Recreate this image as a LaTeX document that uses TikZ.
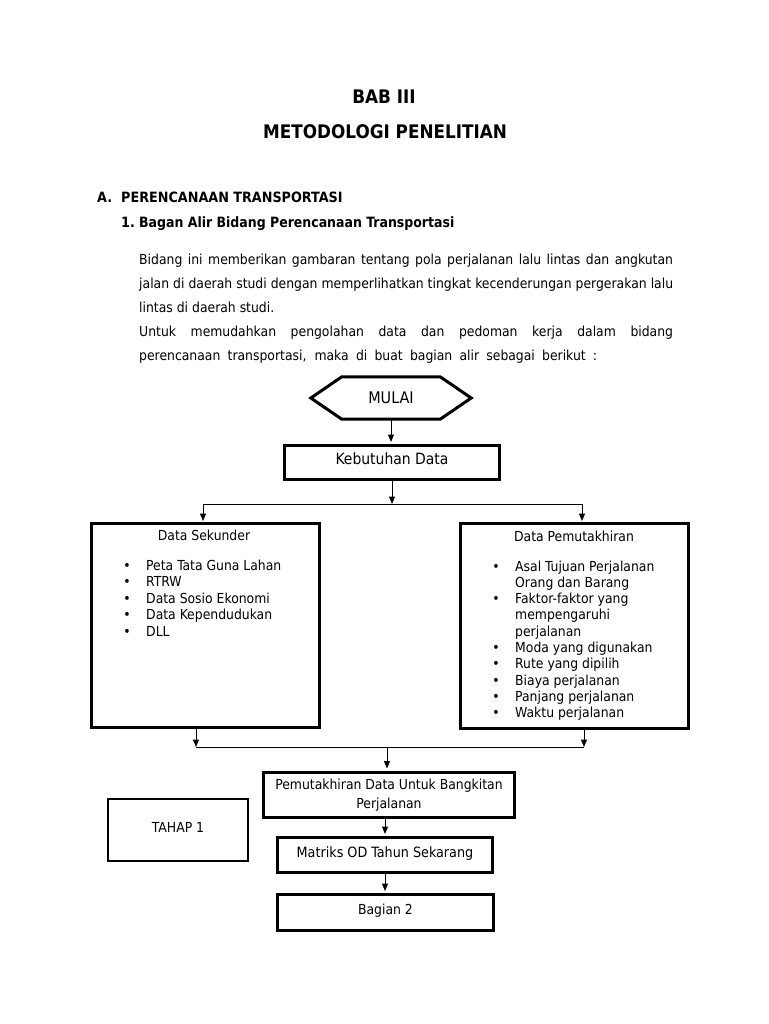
\documentclass[tikz,border=0pt]{standalone}
\usepackage{fontspec}
\setmainfont{DejaVu Sans Condensed}
\usetikzlibrary{arrows.meta}

\newcommand{\txtfont}{\fontsize{13.8}{16.4}\selectfont}
\newcommand{\headfont}{\fontsize{18.7}{20}\selectfont\bfseries}
\newcommand{\secfont}{\fontsize{14.2}{17}\selectfont\bfseries}

\tikzset{
  flowbox/.style={draw, line width=3pt, inner sep=0pt, anchor=north west, align=center, font=\txtfont},
  onebox/.style={flowbox, text height=10.5pt, text depth=6pt},
  listbox/.style={draw, line width=3pt, inner sep=0pt, anchor=north west},
  txt/.style={inner sep=0pt, font=\txtfont, anchor=base west},
  bul/.style={inner sep=0pt, font=\txtfont, anchor=base},
  conn/.style={line width=1pt},
  arr/.style={conn, -{Triangle[length=7.5pt,width=6pt]}},
}

\begin{document}
\begin{tikzpicture}[x=1pt,y=-1pt]
\fill[white] (0,0) rectangle (768,1024);
\useasboundingbox (0,0) rectangle (768,1024);

% judul bab
\node[font=\headfont, anchor=base, inner sep=0pt] (bab) at (384,104) {BAB III};
\node[font=\headfont, anchor=base, inner sep=0pt] (judul) at (385,139) {METODOLOGI PENELITIAN};
\node[font=\secfont, anchor=base west, inner sep=0pt] (sec-a) at (97,203) {A.};
\node[font=\secfont, anchor=base west, inner sep=0pt] (sec-a-t) at (121,203) {PERENCANAAN TRANSPORTASI};
\node[font=\secfont, anchor=base west, inner sep=0pt] (sub-1) at (121,227) {1.};
\node[font=\secfont, anchor=base west, inner sep=0pt, xscale=0.98] (sub-1-t) at (139,227) {Bagan Alir Bidang Perencanaan Transportasi};

% paragraf
\node[txt] (par-1) at (139,264) {\makebox[534pt][s]{Bidang ini memberikan gambaran tentang pola perjalanan lalu lintas dan angkutan}};
\node[txt] (par-2) at (139,288) {\makebox[534pt][s]{jalan di daerah studi dengan memperlihatkan tingkat kecenderungan pergerakan lalu}};
\node[txt] (par-3) at (139,312) {lintas di daerah studi.};
\node[txt] (par-4) at (139,336) {\makebox[534pt][s]{Untuk memudahkan pengolahan data dan pedoman kerja dalam bidang}};
\node[txt] (par-5) at (139,360) {\makebox[458pt][s]{perencanaan transportasi, maka di buat bagian alir sebagai berikut :}};

% mulai
\node[font=\fontsize{16}{18}\selectfont, inner sep=0pt, minimum width=98pt, minimum height=42pt] (mulai) at (391,398) {MULAI};
\draw[line width=3pt] (mulai.north west) -- (mulai.north east) -- ([xshift=31pt]mulai.east)
  -- (mulai.south east) -- (mulai.south west) -- ([xshift=-31pt]mulai.west) -- cycle;

\node[onebox, font=\fontsize{15.5}{18}\selectfont, minimum width=215pt, minimum height=34pt] (keb) at (283,444) {Kebutuhan Data};

% data
\node[listbox, minimum width=228pt, minimum height=204pt] (sek) at (90,522) {};
\node[listbox, minimum width=228pt, minimum height=205pt] (pem) at (459,522) {};

\node[font=\txtfont, anchor=base, inner sep=0pt] (sek-t) at (204,540) {Data Sekunder};
\foreach \t [count=\i from 0] in {Peta Tata Guna Lahan, RTRW, Data Sosio Ekonomi, Data Kependudukan, DLL}{
  \node[txt] (sek-\i) at (146,{570.5+16.4*\i}) {\t};
  \node[bul] (sek-b\i) at (127,{570.5+16.4*\i}) {•};
}

\node[font=\txtfont, anchor=base, inner sep=0pt] (pem-t) at (574,541) {Data Pemutakhiran};
\foreach \b/\t [count=\i from 0] in {1/Asal Tujuan Perjalanan, 0/Orang dan Barang, 1/Faktor-faktor yang,
  0/mempengaruhi, 0/perjalanan, 1/Moda yang digunakan, 1/Rute yang dipilih, 1/Biaya perjalanan,
  1/Panjang perjalanan, 1/Waktu perjalanan}{
  \node[txt] (pem-\i) at (515,{571+16.33*\i}) {\t};
  \ifnum\b=1 \node[bul] (pem-b\i) at (496,{571+16.33*\i}) {•}; \fi
}

% tahap 1
\node[flowbox, font=\fontsize{13.8}{18.5}\selectfont, minimum width=251pt, minimum height=45pt] (bang) at (262,771) {Pemutakhiran Data Untuk Bangkitan\\Perjalanan};
\node[onebox, line width=2pt, minimum width=140pt, minimum height=62pt] (tahap) at (107,798) {TAHAP 1};
\node[onebox, font=\fontsize{14.2}{17}\selectfont, minimum width=215pt, minimum height=35pt] (matriks) at (276,836) {Matriks OD Tahun Sekarang};
\node[onebox, minimum width=216pt, minimum height=36pt] (bagian) at (276,893) {Bagian 2};

% panah
\coordinate (split) at ([yshift=-23pt]keb.south);
\coordinate (sek-in) at (203,521);
\coordinate (pem-in) at (582,521);
\coordinate (join-l) at (196,747);
\coordinate (join-r) at (584,747);
\coordinate (join) at (387,747);

\draw[arr, shorten >=2pt] (mulai.south) -- (mulai.south |- keb.north);
\draw[arr] (keb.south) -- (split);
\draw[arr] (split) -| (sek-in);
\draw[arr] (split) -| (pem-in);
\draw[arr] (sek.south -| join-l) -- (join-l);
\draw[arr] (pem.south -| join-r) -- (join-r);
\draw[conn] (join-l) -- (join-r);
\draw[arr, shorten >=2.5pt] (join) -- (bang.north -| join);
\draw[arr, shorten >=2pt] (bang.south -| matriks.north) -- (matriks.north);
\draw[arr, shorten >=2pt] (matriks.south) -- (bagian.north -| matriks.south);
\end{tikzpicture}
\end{document}
